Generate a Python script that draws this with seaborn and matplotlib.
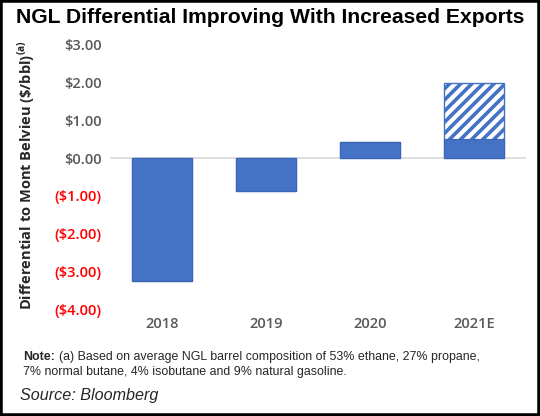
import numpy as np
import pandas as pd
import matplotlib
import matplotlib.pyplot as plt
import seaborn as sns
from matplotlib.patches import Rectangle
from matplotlib.ticker import FuncFormatter
matplotlib.use('Agg')

years = ["2018", "2019", "2020", "2021E"]
base_diff = [-3.25, -0.87, 0.42, 0.50]
export_gain = [0.0, 0.0, 0.0, 1.48]
y_ticks = [3, 2, 1, 0, -1, -2, -3, -4]

BLUE = "#4472C4"
GRAY = "#595959"

sns.set_theme(style="white")
plt.rcParams['font.family'] = ['Liberation Sans', 'DejaVu Sans']
plt.rcParams['hatch.linewidth'] = 2.6
plt.rcParams['hatch.color'] = BLUE

df = pd.DataFrame({"year": years, "base": base_diff,
                   "total": np.array(base_diff) + np.array(export_gain)})

fig = plt.figure(figsize=(5.4, 4.16), dpi=100)
ax = fig.add_axes([0.2037, 0.257, 0.7703, 0.635])

# hatched layer (total with exports), then solid base on top
sns.barplot(data=df, x="year", y="total", ax=ax, color="white", width=0.57,
            edgecolor=BLUE, linewidth=1, hatch="///", saturation=1)
sns.barplot(data=df, x="year", y="base", ax=ax, color=BLUE, width=0.57,
            edgecolor="#3A66B8", linewidth=0.8, saturation=1)

ax.set_ylim(-4, 3)
ax.set_xlim(-0.5, 3.5)
ax.set_yticks(y_ticks)
ax.yaxis.set_major_formatter(FuncFormatter(
    lambda v, p: f"${v:.2f}" if v >= 0 else f"(${-v:.2f})"))
ax.axhline(0, color="#D9D9D9", lw=1.2, zorder=0)
for s in ax.spines.values():
    s.set_visible(False)
ax.tick_params(axis="both", length=0, pad=6)
ax.set_xlabel("")
ax.set_ylabel("")

for lab, v in zip(ax.get_yticklabels(), y_ticks):
    lab.set_fontfamily(['Open Sans', 'DejaVu Sans'])
    lab.set_fontsize(10.5)
    lab.set_fontweight("semibold")
    lab.set_color("#FF0000" if v < 0 else GRAY)
for lab in ax.get_xticklabels():
    lab.set_fontfamily(['Open Sans', 'DejaVu Sans'])
    lab.set_fontsize(10.5)
    lab.set_fontweight("semibold")
    lab.set_color(GRAY)

fig.text(0.5, 0.958, "NGL Differential Improving With Increased Exports",
         ha="center", va="center", fontsize=15.2, fontweight="bold", color="black")
fig.text(0.05, 0.58, r"Differential to Mont Belvieu (\$/bbl)$^{\mathregular{(a)}}$",
         rotation=90, ha="center", va="center", fontsize=10.5, fontweight="bold",
         family=['Open Sans', 'DejaVu Sans'], color="#262626")

note = fig.text(0.043, 0.142, "Note:", ha="left", va="center",
                fontsize=8.9, fontweight="bold")
fig.text(0.0, 0.0, "", transform=fig.transFigure)
ax.annotate("(a) Based on average NGL barrel composition of 53% ethane, 27% propane,",
            xy=(1, 0.5), xycoords=note, xytext=(2.5, 0), textcoords="offset points",
            ha="left", va="center", fontsize=8.9, annotation_clip=False)
fig.text(0.043, 0.106, "7% normal butane, 4% isobutane and 9% natural gasoline.",
         ha="left", va="center", fontsize=8.9)
fig.text(0.037, 0.05, "Source: Bloomberg", ha="left", va="center",
         fontsize=11.6, style="italic")

fig.add_artist(Rectangle((0, 0), 1, 1, transform=fig.transFigure, fill=False,
                         edgecolor="black", linewidth=4))

fig.savefig("out.png", dpi=100)
plt.close(fig)
